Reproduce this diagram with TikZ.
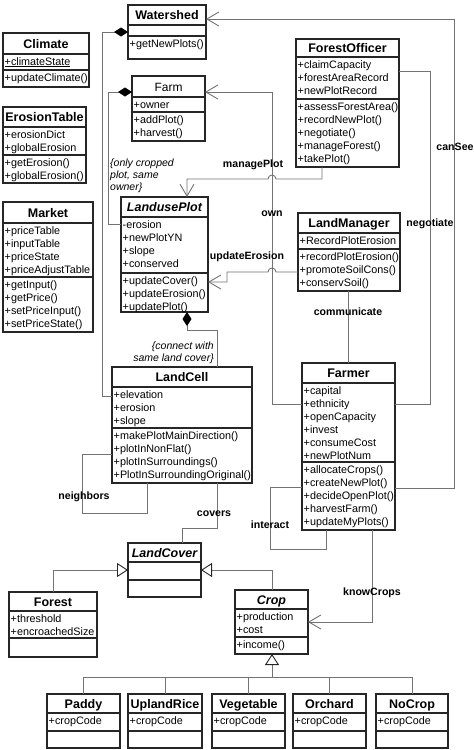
\documentclass[tikz,border=0pt]{standalone}
\usepackage{fontspec}
\setmainfont{Liberation Sans}
\usetikzlibrary{arrows.meta,calc}
\colorlet{boxc}{black!85}
\colorlet{connc}{black!55}
\tikzset{
  classbox/.style={draw=boxc, line width=1.1pt, inner sep=0pt, outer sep=0pt, fill=white},
  sepline/.style={draw=boxc, line width=1.1pt},
  titletxt/.style={font=\fontsize{12.5}{14}\selectfont\bfseries, inner sep=0pt},
  abstitle/.style={font=\fontsize{12.5}{14}\selectfont\bfseries\itshape, inner sep=0pt},
  plaintitle/.style={font=\fontsize{12}{14}\selectfont, inner sep=0pt},
  itemtxt/.style={font=\fontsize{10.8}{13}\selectfont, inner sep=0pt},
  conn/.style={draw=connc, line width=0.9pt},
  lbl/.style={font=\fontsize{10.6}{12}\selectfont\bfseries, inner sep=0pt},
  note/.style={font=\fontsize{10.5}{12}\selectfont\itshape, inner sep=0pt},
  openhead/.style={-{Straight Barb[length=12pt,width=14pt]}},
  comp/.style={-{Diamond[length=14pt,width=9pt,color=black,fill=black]}},
  generalize/.style={-{Triangle[length=11pt,width=14pt,color=boxc,fill=white]}},
}
% #1 id, #2 x1, #3 y1, #4 x2, #5 y2, #6 sep1, #7 sep2, #8 title style, #9 title
\newcommand{\umlclass}[9]{%
  \node[classbox, anchor=north west, minimum width={(#4-#2)*1pt}, minimum height={(#5-#3)*1pt}] (#1) at (#2,#3) {};
  \draw[sepline] (#2,#6) -- (#4,#6) (#2,#7) -- (#4,#7);
  \node[#8, anchor=base] (#1-name) at ({(#2+#4)/2},{(#3+#6)/2+4.5}) {#9};
}
% #1 id prefix, #2 x1, #3 separator y, #4 list of lines
\newcommand{\umlitems}[4]{%
  \foreach \itm [count=\k] in {#4} {\node[itemtxt, anchor=base west] (#1\k) at ({#2+1.5},{#3+11+13*(\k-1)}) {\itm};}
}
\begin{document}
\begin{tikzpicture}[x=1pt,y=-1pt]
\fill[white] (0,0) rectangle (474,750);
\useasboundingbox (0,0) rectangle (474,750);

% ---------- classes ----------
\umlclass{watershed}{128}{5}{206}{59}{25}{36}{titletxt}{Watershed}
\umlitems{watershed-m}{128}{36}{+getNewPlots()}

\umlclass{climate}{3}{33}{89}{87}{54}{70}{titletxt}{Climate}
\umlitems{climate-a}{3}{54}{\underline{+climateState}}
\umlitems{climate-m}{3}{70}{+updateClimate()}

\umlclass{erosiontable}{3}{107}{86}{183}{127}{155}{titletxt}{ErosionTable}
\umlitems{erosiontable-a}{3}{127}{+erosionDict,+globalErosion}
\umlitems{erosiontable-m}{3}{155}{+getErosion(),+globalErosion()}

\umlclass{market}{3}{202}{93}{332}{223}{277}{titletxt}{Market}
\umlitems{market-a}{3}{223}{+priceTable,+inputTable,+priceState,+priceAdjustTable}
\umlitems{market-m}{3}{277}{+getInput(),+getPrice(),+setPriceInput(),+setPriceState()}

\umlclass{farm}{132}{76}{205}{141}{97}{112}{plaintitle}{Farm}
\umlitems{farm-a}{132}{97}{+owner}
\umlitems{farm-m}{132}{112}{+addPlot(),+harvest()}

\umlclass{landuseplot}{121}{197}{208}{312}{217}{273}{abstitle}{LandusePlot}
\umlitems{landuseplot-a}{121}{217}{-erosion,+newPlotYN,+slope,+conserved}
\umlitems{landuseplot-m}{121}{273}{+updateCover(),+updateErosion(),+updatePlot()}

\umlclass{forestofficer}{296}{39}{399}{167}{57}{99}{titletxt}{ForestOfficer}
\umlitems{forestofficer-a}{296}{57}{+claimCapacity,+forestAreaRecord,+newPlotRecord}
\umlitems{forestofficer-m}{296}{99}{+assessForestArea(),+recordNewPlot(),+negotiate(),+manageForest(),+takePlot()}

\umlclass{landmanager}{298}{213}{400}{291}{233}{249}{titletxt}{LandManager}
\umlitems{landmanager-a}{298}{233}{+RecordPlotErosion}
\umlitems{landmanager-m}{298}{249}{+recordPlotErosion(),+promoteSoilCons(),+conservSoil()}

\umlclass{landcell}{112}{367}{252}{483}{387}{428}{titletxt}{LandCell}
\umlitems{landcell-a}{112}{387}{+elevation,+erosion,+slope}
\umlitems{landcell-m}{112}{428}{+makePlotMainDirection(),+plotInNonFlat(),+plotInSurroundings(),+PlotInSurroundingOriginal()}

\umlclass{farmer}{302}{363}{395}{530}{383}{462}{titletxt}{Farmer}
\umlitems{farmer-a}{302}{383}{+capital,+ethnicity,+openCapacity,+invest,+consumeCost,+newPlotNum}
\umlitems{farmer-m}{302}{462}{+allocateCrops(),+createNewPlot(),+decideOpenPlot(),+harvestFarm(),+updateMyPlots()}

\umlclass{landcover}{128}{543}{201}{597}{562}{580}{abstitle}{LandCover}
\draw[boxc, line width=2pt] (128,580) -- (201,580);

\umlclass{forest}{9}{592}{97}{657}{611}{638}{titletxt}{Forest}
\umlitems{forest-a}{9}{611}{+threshold,+encroachedSize}

\umlclass{crop}{235}{590}{308}{654}{609}{637}{abstitle}{Crop}
\umlitems{crop-a}{235}{609}{+production,+cost}
\umlitems{crop-m}{235}{637}{+income()}

\umlclass{paddy}{47}{694}{120}{748}{713}{731}{titletxt}{Paddy}
\umlitems{paddy-a}{47}{713}{+cropCode}
\umlclass{uplandrice}{128}{694}{202}{748}{713}{731}{titletxt}{UplandRice}
\umlitems{uplandrice-a}{128}{713}{+cropCode}
\umlclass{vegetable}{212}{694}{285}{748}{713}{731}{titletxt}{Vegetable}
\umlitems{vegetable-a}{212}{713}{+cropCode}
\umlclass{orchard}{293}{694}{366}{748}{713}{731}{titletxt}{Orchard}
\umlitems{orchard-a}{293}{713}{+cropCode}
\umlclass{nocrop}{376}{694}{448}{748}{713}{731}{titletxt}{NoCrop}
\umlitems{nocrop-a}{376}{713}{+cropCode}

% ---------- connectors ----------
% compositions
\draw[conn, comp] (landcell.west |- 0,396) -- (102,396) -- (102,32) -- (watershed.west |- 0,32);
\draw[conn, comp] (landuseplot.west |- 0,224) -- (108,224) -- (108,92) -- (farm.west |- 0,92);
\draw[conn, comp] (landcell.north -| 217,0) -- (217,330) -- (187,330) -- (landuseplot.south -| 187,0);
% neighbors
\draw[conn] (landcell.west |- 0,454) -- (82,454) -- (82,513) -- (147,513) -- (landcell.south -| 147,0);
% covers
\draw[conn] (landcell.south -| 217,0) -- (217,528) -- (182,528) -- (landcover.north -| 182,0);
% generalizations
\draw[conn, generalize] (forest.north -| 53,0) |- (landcover.west |- 0,570);
\draw[conn, generalize] (crop.north -| 272,0) |- (landcover.east |- 0,570);
\coordinate (cropbus) at (272,677);
\draw[conn, generalize] (cropbus) -- (crop.south -| cropbus);
\draw[conn] (paddy.north) -- (paddy.north |- cropbus) -- (nocrop.north |- cropbus) -- (nocrop.north);
\foreach \c in {uplandrice,vegetable,orchard} {\draw[conn] (\c.north) -- (\c.north |- cropbus);}
% knowCrops
\draw[conn, openhead] (farmer.south -| 372,0) |- (crop.east |- 0,622);
% interact
\draw[conn] (farmer.west |- 0,487) -- (270,487) -- (270,549) -- (326,549) -- (farmer.south -| 326,0);
% own
\draw[conn, openhead] (farmer.west |- 0,404) -- (272,404) -- (272,92) -- (farm.east |- 0,92);
% canSee
\draw[conn, openhead] (farmer.east |- 0,488) -- (454,488) -- (454,19) -- (watershed.east |- 0,19);
% negotiate
\draw[conn] (forestofficer.east |- 0,71) -- (430,71) -- (430,404) -- (farmer.east |- 0,404);
% communicate
\draw[conn] (landmanager.south -| 348,0) -- (farmer.north -| 348,0);
% managePlot
\draw[conn, openhead] (forestofficer.south -| 322,0) -- (322,179) -- (276,179) arc[start angle=0, end angle=-180, radius=4] -- (187,179) -- (landuseplot.north -| 187,0);
% updateErosion
\draw[conn, openhead] (landmanager.west |- 0,272) -- (276,272) arc[start angle=0, end angle=-180, radius=4] -- (227,272) -- (227,282) -- (landuseplot.east |- 0,282);

% ---------- labels ----------
\node[lbl] (l-manage) at (253,165) {managePlot};
\node[lbl] (l-own) at (272,214) {own};
\node[lbl] (l-upd) at (247,257) {updateErosion};
\node[lbl] (l-comm) at (348,312) {communicate};
\node[lbl] (l-neg) at (430,224) {negotiate};
\node[lbl] (l-see) at (455,147) {canSee};
\node[lbl] (l-nb) at (84,497) {neighbors};
\node[lbl] (l-cov) at (214,514) {covers};
\node[lbl] (l-int) at (270,525) {interact};
\node[lbl] (l-know) at (372,593) {knowCrops};
\node[note, anchor=north west, align=left] (n-owner) at (110,159) {\{only cropped\\plot, same\\owner\}};
\node[note, anchor=north east, align=right] (n-cover) at (214,342) {\{connect with\\same land cover\}};
\end{tikzpicture}
\end{document}
